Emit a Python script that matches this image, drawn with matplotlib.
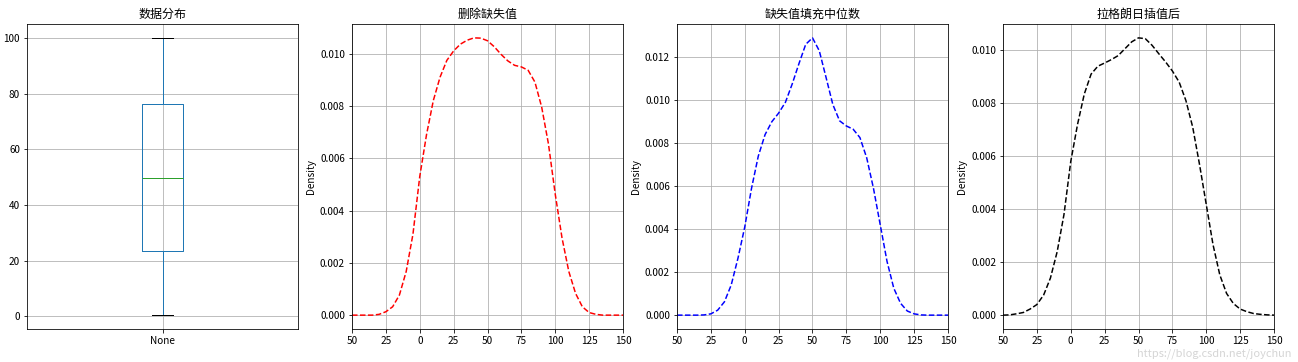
import numpy as np
import matplotlib
matplotlib.use('Agg')
import matplotlib.pyplot as plt

plt.rcParams['font.family'] = ['Noto Sans CJK SC', 'DejaVu Sans']
plt.rcParams['axes.unicode_minus'] = False

# box plot summary
box_stats = {'whislo': 0.4, 'q1': 23.5, 'med': 49.5, 'q3': 76.2, 'whishi': 100.0}
box_label = 'None'

# density curves (x grid and values)
kde_x = [-50, -45, -40, -35, -30, -25, -20, -15, -10, -5, 0, 5, 10, 15, 20, 25,
         30, 35, 40, 45, 50, 55, 60, 65, 70, 75, 80, 85, 90, 95, 100, 105, 110,
         115, 120, 125, 130, 135, 140, 145, 150]

dropna_density = [0, 0, 0, 0, 0.00003, 0.00013, 0.00032, 0.00077, 0.00167, 0.0031,
                  0.0053, 0.0069, 0.0082, 0.0091, 0.00974, 0.0101, 0.01036, 0.01051,
                  0.0106, 0.01059, 0.01049, 0.01026, 0.00997, 0.00972, 0.00955,
                  0.00949, 0.00936, 0.00891, 0.00795, 0.00654, 0.00462, 0.00295,
                  0.00167, 0.00083, 0.00032, 0.0001, 0.00003, 0, 0, 0, 0]

median_density = [0, 0, 0, 0, 0.00001, 0.00006, 0.00023, 0.00062, 0.0014, 0.00265,
                  0.0041, 0.0059, 0.0074, 0.0084, 0.0090, 0.0094, 0.0099, 0.01075,
                  0.0117, 0.0126, 0.0129, 0.0123, 0.01106, 0.0098, 0.00904, 0.0088,
                  0.00865, 0.00826, 0.00732, 0.0059, 0.0042, 0.0025, 0.00125,
                  0.00055, 0.00019, 0.00006, 0.00001, 0, 0, 0, 0]

lagrange_density = [0, 0.00001, 0.00005, 0.0001, 0.00023, 0.0004, 0.00076, 0.0014,
                    0.0024, 0.0038, 0.0058, 0.0072, 0.00835, 0.0091, 0.0094, 0.00952,
                    0.00965, 0.0098, 0.01006, 0.01032, 0.01047, 0.01044, 0.01019,
                    0.00987, 0.00956, 0.00922, 0.0088, 0.0081, 0.0071, 0.0057,
                    0.00418, 0.00266, 0.00152, 0.00082, 0.00044, 0.00023, 0.00013,
                    0.00006, 0.00003, 0.00001, 0]

x_ticks = [-50, -25, 0, 25, 50, 75, 100, 125, 150]
# the original font had no minus glyph, so the labels show without it
x_tick_labels = ['50', '25', '0', '25', '50', '75', '100', '125', '150']

titles = ['数据分布', '删除缺失值', '缺失值填充中位数', '拉格朗日插值后']

W, H = 1298, 362
fig = plt.figure(figsize=(W / 72, H / 72), dpi=72)

lefts = [27, 352, 677, 1003]
axes = [fig.add_axes([l / W, (H - 329) / H, 271 / W, 305 / H]) for l in lefts]

# box plot
ax = axes[0]
stats = dict(box_stats, label=box_label, fliers=[])
ax.bxp([stats], showfliers=False,
       boxprops=dict(color='C0'), whiskerprops=dict(color='C0'),
       medianprops=dict(color='C2'), capprops=dict(color='k'))
ax.grid(True)
ax.set_title(titles[0], fontsize=12)

curves = [(dropna_density, 'r'), (median_density, 'b'), (lagrange_density, 'k')]
for ax, (vals, col), title in zip(axes[1:], curves, titles[1:]):
    ax.plot(kde_x, vals, color=col, linestyle='--', linewidth=1.5)
    ax.set_xlim(-50, 150)
    ax.set_xticks(x_ticks)
    ax.set_xticklabels(x_tick_labels)
    ax.set_ylabel('Density')
    ax.grid(True)
    ax.set_title(title, fontsize=12)

# watermark, kept just under the tick labels
fig.text(1292 / W, 1 - 354 / H, 'https://blog.csdn.net/joychun', color='#d5d5d5',
         fontsize=11, ha='right', va='center')

fig.savefig('out.png', dpi=72)
